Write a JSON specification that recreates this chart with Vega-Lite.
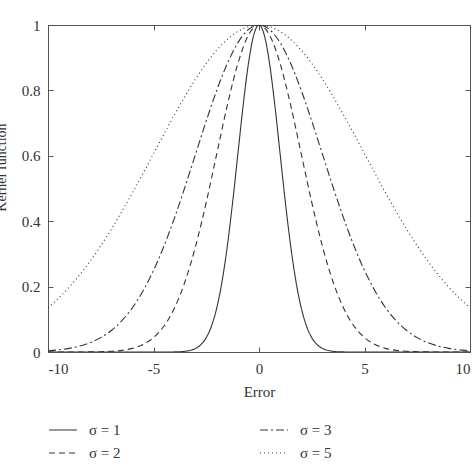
{
  "$schema": "https://vega.github.io/schema/vega-lite/v6.json",
  "width": 422,
  "height": 327,
  "autosize": "none",
  "padding": {"left": 48, "top": 25, "right": 4, "bottom": 122},
  "background": "white",
  "config": {
    "view": {"stroke": "#555", "strokeWidth": 1},
    "font": "Liberation Serif",
    "axis": {
      "labelFont": "Liberation Serif",
      "titleFont": "Liberation Serif",
      "labelFontSize": 15,
      "titleFontSize": 15,
      "titleFontWeight": "normal",
      "labelColor": "#333",
      "titleColor": "#333",
      "domainColor": "#555",
      "tickColor": "#555",
      "grid": false
    },
    "legend": {
      "labelFont": "Liberation Serif",
      "labelFontSize": 15,
      "labelColor": "#333"
    }
  },
  "data": {
    "values": [
      {"s": "σ = 1", "x": -10, "y": 0},
      {"s": "σ = 1", "x": -5, "y": 0},
      {"s": "σ = 1", "x": -4.5, "y": 0.00004},
      {"s": "σ = 1", "x": -4, "y": 0.0003},
      {"s": "σ = 1", "x": -3.5, "y": 0.0022},
      {"s": "σ = 1", "x": -3.25, "y": 0.0051},
      {"s": "σ = 1", "x": -3, "y": 0.0111},
      {"s": "σ = 1", "x": -2.75, "y": 0.0228},
      {"s": "σ = 1", "x": -2.5, "y": 0.0439},
      {"s": "σ = 1", "x": -2.25, "y": 0.0796},
      {"s": "σ = 1", "x": -2, "y": 0.1353},
      {"s": "σ = 1", "x": -1.75, "y": 0.2163},
      {"s": "σ = 1", "x": -1.5, "y": 0.3247},
      {"s": "σ = 1", "x": -1.25, "y": 0.4578},
      {"s": "σ = 1", "x": -1, "y": 0.6065},
      {"s": "σ = 1", "x": -0.75, "y": 0.7548},
      {"s": "σ = 1", "x": -0.5, "y": 0.8825},
      {"s": "σ = 1", "x": -0.25, "y": 0.9692},
      {"s": "σ = 1", "x": 0, "y": 1},
      {"s": "σ = 1", "x": 0.25, "y": 0.9692},
      {"s": "σ = 1", "x": 0.5, "y": 0.8825},
      {"s": "σ = 1", "x": 0.75, "y": 0.7548},
      {"s": "σ = 1", "x": 1, "y": 0.6065},
      {"s": "σ = 1", "x": 1.25, "y": 0.4578},
      {"s": "σ = 1", "x": 1.5, "y": 0.3247},
      {"s": "σ = 1", "x": 1.75, "y": 0.2163},
      {"s": "σ = 1", "x": 2, "y": 0.1353},
      {"s": "σ = 1", "x": 2.25, "y": 0.0796},
      {"s": "σ = 1", "x": 2.5, "y": 0.0439},
      {"s": "σ = 1", "x": 2.75, "y": 0.0228},
      {"s": "σ = 1", "x": 3, "y": 0.0111},
      {"s": "σ = 1", "x": 3.25, "y": 0.0051},
      {"s": "σ = 1", "x": 3.5, "y": 0.0022},
      {"s": "σ = 1", "x": 4, "y": 0.0003},
      {"s": "σ = 1", "x": 4.5, "y": 0.00004},
      {"s": "σ = 1", "x": 5, "y": 0},
      {"s": "σ = 1", "x": 10, "y": 0},

      {"s": "σ = 2", "x": -10, "y": 0.000004},
      {"s": "σ = 2", "x": -9.5, "y": 0.00001},
      {"s": "σ = 2", "x": -9, "y": 0.00004},
      {"s": "σ = 2", "x": -8.5, "y": 0.00012},
      {"s": "σ = 2", "x": -8, "y": 0.00034},
      {"s": "σ = 2", "x": -7.5, "y": 0.00088},
      {"s": "σ = 2", "x": -7, "y": 0.0022},
      {"s": "σ = 2", "x": -6.5, "y": 0.0051},
      {"s": "σ = 2", "x": -6, "y": 0.0111},
      {"s": "σ = 2", "x": -5.5, "y": 0.0228},
      {"s": "σ = 2", "x": -5, "y": 0.0439},
      {"s": "σ = 2", "x": -4.5, "y": 0.0796},
      {"s": "σ = 2", "x": -4, "y": 0.1353},
      {"s": "σ = 2", "x": -3.5, "y": 0.2163},
      {"s": "σ = 2", "x": -3, "y": 0.3247},
      {"s": "σ = 2", "x": -2.5, "y": 0.4578},
      {"s": "σ = 2", "x": -2, "y": 0.6065},
      {"s": "σ = 2", "x": -1.5, "y": 0.7548},
      {"s": "σ = 2", "x": -1, "y": 0.8825},
      {"s": "σ = 2", "x": -0.5, "y": 0.9692},
      {"s": "σ = 2", "x": 0, "y": 1},
      {"s": "σ = 2", "x": 0.5, "y": 0.9692},
      {"s": "σ = 2", "x": 1, "y": 0.8825},
      {"s": "σ = 2", "x": 1.5, "y": 0.7548},
      {"s": "σ = 2", "x": 2, "y": 0.6065},
      {"s": "σ = 2", "x": 2.5, "y": 0.4578},
      {"s": "σ = 2", "x": 3, "y": 0.3247},
      {"s": "σ = 2", "x": 3.5, "y": 0.2163},
      {"s": "σ = 2", "x": 4, "y": 0.1353},
      {"s": "σ = 2", "x": 4.5, "y": 0.0796},
      {"s": "σ = 2", "x": 5, "y": 0.0439},
      {"s": "σ = 2", "x": 5.5, "y": 0.0228},
      {"s": "σ = 2", "x": 6, "y": 0.0111},
      {"s": "σ = 2", "x": 6.5, "y": 0.0051},
      {"s": "σ = 2", "x": 7, "y": 0.0022},
      {"s": "σ = 2", "x": 7.5, "y": 0.00088},
      {"s": "σ = 2", "x": 8, "y": 0.00034},
      {"s": "σ = 2", "x": 8.5, "y": 0.00012},
      {"s": "σ = 2", "x": 9, "y": 0.00004},
      {"s": "σ = 2", "x": 9.5, "y": 0.00001},
      {"s": "σ = 2", "x": 10, "y": 0.000004},

      {"s": "σ = 3", "x": -10, "y": 0.0039},
      {"s": "σ = 3", "x": -9.5, "y": 0.0066},
      {"s": "σ = 3", "x": -9, "y": 0.0111},
      {"s": "σ = 3", "x": -8.5, "y": 0.0181},
      {"s": "σ = 3", "x": -8, "y": 0.0286},
      {"s": "σ = 3", "x": -7.5, "y": 0.0439},
      {"s": "σ = 3", "x": -7, "y": 0.0657},
      {"s": "σ = 3", "x": -6.5, "y": 0.0956},
      {"s": "σ = 3", "x": -6, "y": 0.1353},
      {"s": "σ = 3", "x": -5.5, "y": 0.1863},
      {"s": "σ = 3", "x": -5, "y": 0.2494},
      {"s": "σ = 3", "x": -4.5, "y": 0.3247},
      {"s": "σ = 3", "x": -4, "y": 0.4111},
      {"s": "σ = 3", "x": -3.5, "y": 0.5063},
      {"s": "σ = 3", "x": -3, "y": 0.6065},
      {"s": "σ = 3", "x": -2.5, "y": 0.7066},
      {"s": "σ = 3", "x": -2, "y": 0.8007},
      {"s": "σ = 3", "x": -1.5, "y": 0.8825},
      {"s": "σ = 3", "x": -1, "y": 0.946},
      {"s": "σ = 3", "x": -0.5, "y": 0.9862},
      {"s": "σ = 3", "x": 0, "y": 1},
      {"s": "σ = 3", "x": 0.5, "y": 0.9862},
      {"s": "σ = 3", "x": 1, "y": 0.946},
      {"s": "σ = 3", "x": 1.5, "y": 0.8825},
      {"s": "σ = 3", "x": 2, "y": 0.8007},
      {"s": "σ = 3", "x": 2.5, "y": 0.7066},
      {"s": "σ = 3", "x": 3, "y": 0.6065},
      {"s": "σ = 3", "x": 3.5, "y": 0.5063},
      {"s": "σ = 3", "x": 4, "y": 0.4111},
      {"s": "σ = 3", "x": 4.5, "y": 0.3247},
      {"s": "σ = 3", "x": 5, "y": 0.2494},
      {"s": "σ = 3", "x": 5.5, "y": 0.1863},
      {"s": "σ = 3", "x": 6, "y": 0.1353},
      {"s": "σ = 3", "x": 6.5, "y": 0.0956},
      {"s": "σ = 3", "x": 7, "y": 0.0657},
      {"s": "σ = 3", "x": 7.5, "y": 0.0439},
      {"s": "σ = 3", "x": 8, "y": 0.0286},
      {"s": "σ = 3", "x": 8.5, "y": 0.0181},
      {"s": "σ = 3", "x": 9, "y": 0.0111},
      {"s": "σ = 3", "x": 9.5, "y": 0.0066},
      {"s": "σ = 3", "x": 10, "y": 0.0039},

      {"s": "σ = 5", "x": -10, "y": 0.1353},
      {"s": "σ = 5", "x": -9.5, "y": 0.1645},
      {"s": "σ = 5", "x": -9, "y": 0.1979},
      {"s": "σ = 5", "x": -8.5, "y": 0.2357},
      {"s": "σ = 5", "x": -8, "y": 0.278},
      {"s": "σ = 5", "x": -7.5, "y": 0.3247},
      {"s": "σ = 5", "x": -7, "y": 0.3753},
      {"s": "σ = 5", "x": -6.5, "y": 0.4296},
      {"s": "σ = 5", "x": -6, "y": 0.4868},
      {"s": "σ = 5", "x": -5.5, "y": 0.5461},
      {"s": "σ = 5", "x": -5, "y": 0.6065},
      {"s": "σ = 5", "x": -4.5, "y": 0.667},
      {"s": "σ = 5", "x": -4, "y": 0.7261},
      {"s": "σ = 5", "x": -3.5, "y": 0.7827},
      {"s": "σ = 5", "x": -3, "y": 0.8353},
      {"s": "σ = 5", "x": -2.5, "y": 0.8825},
      {"s": "σ = 5", "x": -2, "y": 0.9231},
      {"s": "σ = 5", "x": -1.5, "y": 0.956},
      {"s": "σ = 5", "x": -1, "y": 0.9802},
      {"s": "σ = 5", "x": -0.5, "y": 0.995},
      {"s": "σ = 5", "x": 0, "y": 1},
      {"s": "σ = 5", "x": 0.5, "y": 0.995},
      {"s": "σ = 5", "x": 1, "y": 0.9802},
      {"s": "σ = 5", "x": 1.5, "y": 0.956},
      {"s": "σ = 5", "x": 2, "y": 0.9231},
      {"s": "σ = 5", "x": 2.5, "y": 0.8825},
      {"s": "σ = 5", "x": 3, "y": 0.8353},
      {"s": "σ = 5", "x": 3.5, "y": 0.7827},
      {"s": "σ = 5", "x": 4, "y": 0.7261},
      {"s": "σ = 5", "x": 4.5, "y": 0.667},
      {"s": "σ = 5", "x": 5, "y": 0.6065},
      {"s": "σ = 5", "x": 5.5, "y": 0.5461},
      {"s": "σ = 5", "x": 6, "y": 0.4868},
      {"s": "σ = 5", "x": 6.5, "y": 0.4296},
      {"s": "σ = 5", "x": 7, "y": 0.3753},
      {"s": "σ = 5", "x": 7.5, "y": 0.3247},
      {"s": "σ = 5", "x": 8, "y": 0.278},
      {"s": "σ = 5", "x": 8.5, "y": 0.2357},
      {"s": "σ = 5", "x": 9, "y": 0.1979},
      {"s": "σ = 5", "x": 9.5, "y": 0.1645},
      {"s": "σ = 5", "x": 10, "y": 0.1353}
    ]
  },
  "layer": [
    {
      "mark": {"type": "line", "interpolate": "monotone", "color": "#333", "strokeWidth": 1.1, "clip": true},
      "encoding": {
        "x": {
          "field": "x", "type": "quantitative",
          "scale": {"domain": [-10, 10], "nice": false, "zero": false},
          "axis": {"title": "Error", "values": [-10, -5, 0, 5, 10], "labelExpr": "datum.value + ''", "tickSize": -5, "labelPadding": 14, "titlePadding": 8}
        },
        "y": {
          "field": "y", "type": "quantitative",
          "scale": {"domain": [0, 1], "nice": false},
          "axis": {"title": "Kernel function", "titleFontSize": 14, "values": [0, 0.2, 0.4, 0.6, 0.8, 1], "labelExpr": "datum.value + ''", "tickSize": -5, "labelPadding": 13, "titleX": -40, "titleY": 142, "titleAlign": "center", "titleBaseline": "bottom"}
        },
        "strokeDash": {
          "field": "s", "type": "nominal",
          "scale": {
            "domain": ["σ = 1", "σ = 2", "σ = 3", "σ = 5"],
            "range": [[1, 0], [6, 4], [8, 3, 2, 3], [1, 3]]
          },
          "legend": {
            "title": null,
            "orient": "none",
            "legendX": 0,
            "legendY": 390,
            "columns": 2,
            "symbolType": "stroke",
            "symbolSize": 784,
            "symbolStrokeColor": "#333",
            "symbolStrokeWidth": 1.1,
            "labelOffset": 11,
            "columnPadding": 136,
            "rowPadding": -1,
            "padding": 0
          }
        }
      }
    },
    {
      "mark": {"type": "line", "opacity": 0},
      "encoding": {
        "x": {
          "field": "x", "type": "quantitative",
          "scale": {"domain": [-10, 10], "nice": false, "zero": false},
          "axis": {"orient": "top", "title": null, "labels": false, "values": [-10, -5, 0, 5, 10], "tickSize": -5}
        },
        "y": {
          "field": "y", "type": "quantitative",
          "scale": {"domain": [0, 1], "nice": false},
          "axis": {"orient": "right", "title": null, "labels": false, "values": [0, 0.2, 0.4, 0.6, 0.8, 1], "tickSize": -5}
        }
      }
    }
  ],
  "resolve": {"axis": {"x": "independent", "y": "independent"}}
}
